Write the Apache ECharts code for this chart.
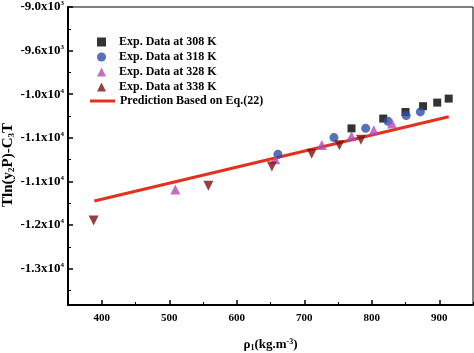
<!DOCTYPE html>
<html>
<head>
<meta charset="utf-8">
<script src="https://cdn.jsdelivr.net/npm/echarts@6/dist/echarts.min.js"></script>
<style>
  html, body { margin: 0; padding: 0; background: #fff; }
  #chart { width: 474px; height: 353px; }
</style>
</head>
<body>
<div id="chart"></div>
<script>
const x308 = [770, 817, 850, 876, 897, 914];
const y308 = [-10670, -10535, -10445, -10365, -10315, -10260];
const x318 = [661, 744, 791, 824, 851, 872];
const y318 = [-11027, -10797, -10669, -10572, -10494, -10443];
const x328 = [509, 657, 726, 770, 803, 830];
const y328 = [-11510, -11096, -10899, -10779, -10696, -10604];
const x338 = [388, 558, 652, 711, 752, 784];
const y338 = [-11937, -11459, -11193, -11018, -10903, -10825];
// fitted line end points
const xFit = [389, 914];
const yFit = [-11670, -10510];

const xTicks = [400, 500, 600, 700, 800, 900];
const xMinor = [350, 450, 550, 650, 750, 850, 950];
const yTicks = [-9000, -9600, -10200, -10800, -11400, -12000, -12600];
const yMinor = [-9300, -9900, -10500, -11100, -11700, -12300, -12900];

const names = ['Exp. Data at 308 K', 'Exp. Data at 318 K', 'Exp. Data at 328 K',
  'Exp. Data at 338 K', 'Prediction Based on Eq.(22)'];

const pair = (xs, ys) => xs.map((v, i) => [v, ys[i]]);
const serif = 'Liberation Serif';
const legendText = {fontFamily: serif, fontWeight: 'bold', fontSize: 12, color: '#000', lineHeight: 11};

function yLabel(v) {
  if (v > -10000) return '{b|' + (v / 1000).toFixed(1) + 'x10}{s|3}';
  return '{b|' + (v / 10000).toFixed(1) + 'x10}{s|4}';
}

const chart = echarts.init(document.getElementById('chart'));
chart.setOption({
  animation: false,
  textStyle: {fontFamily: serif},
  grid: {left: 68, right: 1, top: 7, bottom: 48, outerBoundsMode: 'none',
    show: true, borderColor: '#000', borderWidth: 1},
  legend: [{
    orient: 'vertical', left: 97, top: 36, padding: 0,
    itemWidth: 9, itemHeight: 9, itemGap: 3,
    textStyle: Object.assign({padding: [0, 0, 0, 8]}, legendText),
    data: names.slice(0, 4)
  }, {
    orient: 'vertical', left: 90, top: 95, padding: 0,
    itemWidth: 25, itemHeight: 3,
    textStyle: legendText,
    data: [{name: names[4], icon: 'rect'}]
  }],
  xAxis: [{
    type: 'value', min: 350, max: 950,
    name: 'ρ{sub|1}(kg.m{sup|-3})', nameLocation: 'middle', nameGap: 33,
    nameTextStyle: {
      fontFamily: serif, fontWeight: 'bold', fontSize: 13, color: '#000',
      rich: {
        sub: {fontFamily: serif, fontWeight: 'bold', fontSize: 8, verticalAlign: 'bottom', padding: [6, 0, 0, 0]},
        sup: {fontFamily: serif, fontWeight: 'bold', fontSize: 8, verticalAlign: 'top', padding: [0, 0, 6, 0]}
      }
    },
    axisLine: {lineStyle: {color: '#000', width: 2}},
    axisTick: {inside: true, length: 5, lineStyle: {width: 1.5}, customValues: xTicks},
    axisLabel: {fontFamily: serif, fontWeight: 'bold', fontSize: 11, color: '#000', margin: 8, customValues: xTicks},
    splitLine: {show: false}
  }, {
    type: 'value', min: 350, max: 950, position: 'bottom',
    axisLine: {show: false},
    axisTick: {inside: true, length: 3, lineStyle: {color: '#000', width: 1}, customValues: xMinor},
    axisLabel: {show: false},
    splitLine: {show: false}
  }],
  yAxis: [{
    type: 'value', min: -13100, max: -9000,
    name: 'Tln(y{sub|2}P)-C{sub|3}T', nameLocation: 'middle', nameGap: 52, nameMoveOverlap: false,
    nameTextStyle: {
      fontFamily: serif, fontWeight: 'bold', fontSize: 15, color: '#000', padding: [0, 18, 0, 0],
      rich: {
        sub: {fontFamily: serif, fontWeight: 'bold', fontSize: 9, verticalAlign: 'bottom', padding: [6, 0, 0, 0]}
      }
    },
    axisLine: {lineStyle: {color: '#000', width: 2}},
    axisTick: {inside: true, length: 5, lineStyle: {width: 1.5}, customValues: yTicks},
    axisLabel: {
      margin: 4, customValues: yTicks, formatter: yLabel,
      rich: {
        b: {fontFamily: serif, fontWeight: 'bold', fontSize: 13, color: '#000', lineHeight: 14},
        s: {fontFamily: serif, fontWeight: 'bold', fontSize: 7, color: '#000', verticalAlign: 'top', lineHeight: 14}
      }
    },
    splitLine: {show: false}
  }, {
    type: 'value', min: -13100, max: -9000, position: 'left',
    axisLine: {show: false},
    axisTick: {inside: true, length: 3, lineStyle: {color: '#000', width: 1}, customValues: yMinor},
    axisLabel: {show: false},
    splitLine: {show: false}
  }],
  series: [
    {name: names[0], type: 'scatter', symbol: 'rect', symbolSize: 8,
      itemStyle: {color: '#000'}, data: pair(x308, y308)},
    {name: names[1], type: 'scatter', symbol: 'circle', symbolSize: 9,
      itemStyle: {color: '#2c4ca8'}, data: pair(x318, y318)},
    {name: names[2], type: 'scatter', symbol: 'triangle', symbolSize: 10,
      itemStyle: {color: '#b648b8'}, data: pair(x328, y328)},
    {name: names[3], type: 'scatter', symbol: 'triangle', symbolRotate: 180, symbolSize: 10,
      itemStyle: {color: '#7a1212'}, data: pair(x338, y338)},
    {name: names[4], type: 'line', symbol: 'none', z: 1,
      lineStyle: {color: '#e3311d', width: 3}, itemStyle: {color: '#e3311d'},
      data: pair(xFit, yFit)}
  ]
});
</script>
</body>
</html>
